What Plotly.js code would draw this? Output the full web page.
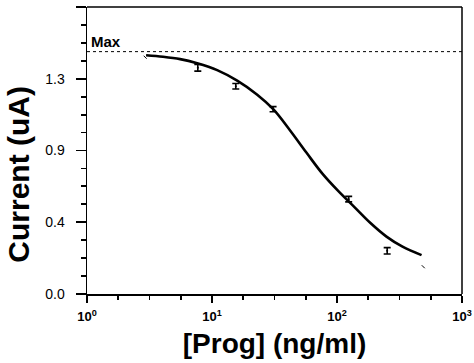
<!DOCTYPE html>
<html>
<head>
<meta charset="utf-8">
<script src="https://cdn.plot.ly/plotly-3.0.1.min.js"></script>
<style>html,body{margin:0;padding:0;background:#fff;}#chart{width:474px;height:363px;}</style>
</head>
<body>
<div id="chart"></div>
<script>
// Measured points (concentration, current, error)
const concData = [7.7, 15.5, 30.8, 124, 252];
const currentData = [1.419, 1.303, 1.159, 0.595, 0.271];
const currentErr = [0.021, 0.017, 0.016, 0.017, 0.02];

// Fitted curve
const fitConc = [2.97, 4.06, 5.56, 7.61, 11.0, 15.9, 23.0, 30.9, 42.3, 56.9, 76.4, 102.6, 137.9, 185.2, 248.8, 334.2, 474.7];
const fitCurrent = [1.4975, 1.488, 1.473, 1.447, 1.404, 1.338, 1.250, 1.159, 1.024, 0.887, 0.755, 0.645, 0.545, 0.445, 0.360, 0.297, 0.244];

// Small end marks
const markConc = [2.92, 490];
const markCurrent = [1.485, 0.171];

// Max level line
const maxConc = [1, 1000];
const maxLevel = 1.52;
const maxLabel = 'Max';

// Axis ticks
const xTickText = {'1': '10<sup>0</sup>', '10': '10<sup>1</sup>', '100': '10<sup>2</sup>', '1000': '10<sup>3</sup>'};
const xMinorStepDecades = 0.25;
const yMajorStep = 0.45;
const yTickText = {'0': '0.0', '0.45': '0.4', '0.9': '0.9', '1.35': '1.3', '1.8': '1.8'};
const yMinorStep = 0.1125;

const xTitle = '[Prog] (ng/ml)';
const yTitle = 'Current (uA)';

const font = 'Liberation Sans, Arial, sans-serif';
const clear = 'rgba(0,0,0,0)';

const traces = [
  {x: maxConc, y: maxConc.map(() => maxLevel), mode: 'lines', line: {color: 'black', width: 1, dash: 'dot'}, hoverinfo: 'skip'},
  {x: fitConc, y: fitCurrent, mode: 'lines', line: {color: 'black', width: 2.6, shape: 'spline'}},
  {x: concData, y: currentData, mode: 'markers', marker: {color: 'black', size: 2},
   error_y: {type: 'data', array: currentErr, visible: true, color: 'black', thickness: 1.6, width: 3.5}},
  {x: markConc, y: markCurrent, mode: 'markers', marker: {symbol: 'line-nw', size: 3, line: {color: 'black', width: 1}}}
];

const frame = {type: 'line', xref: 'paper', yref: 'paper', line: {color: 'black', width: 1.5}};

const layout = {
  width: 474, height: 363,
  margin: {l: 87, r: 12, t: 7, b: 69},
  showlegend: false,
  paper_bgcolor: 'white', plot_bgcolor: 'white',
  font: {family: font, color: 'black'},
  xaxis: {
    type: 'log', range: [0, 3],
    dtick: 1, labelalias: xTickText,
    ticks: 'outside', ticklen: 7, tickwidth: 1.8, tickcolor: 'black',
    minor: {dtick: xMinorStepDecades, ticks: 'outside', ticklen: 4, tickwidth: 1.8, tickcolor: 'black', gridcolor: clear},
    ticklabelstandoff: 3,
    showline: true, linecolor: 'black', linewidth: 1.5,
    gridcolor: clear,
    tickfont: {family: font, size: 13, weight: 'bold'},
    title: {text: xTitle, font: {family: font, size: 28, weight: 'bold'}, standoff: 10}
  },
  yaxis: {
    range: [0, 1.8],
    dtick: yMajorStep, labelalias: yTickText,
    ticks: 'outside', ticklen: 10, tickwidth: 1.8, tickcolor: 'black',
    minor: {dtick: yMinorStep, ticks: 'outside', ticklen: 5, tickwidth: 1.8, tickcolor: 'black', gridcolor: clear},
    ticklabelstandoff: 8,
    showline: true, linecolor: 'black', linewidth: 1.5,
    gridcolor: clear, zerolinecolor: clear,
    tickfont: {family: font, size: 14}
  },
  shapes: [
    Object.assign({x0: 0, x1: 1, y0: 1, y1: 1}, frame),
    Object.assign({x0: 1, x1: 1, y0: 0, y1: 1}, frame)
  ],
  annotations: [{
    x: 0, y: maxLevel, xref: 'x', yref: 'y', text: maxLabel, showarrow: false,
    xanchor: 'left', yanchor: 'bottom', xshift: 2, yshift: 0,
    font: {family: font, size: 15, weight: 'bold', color: 'black'}
  }, {
    x: -0.185, y: 0.418, xref: 'paper', yref: 'paper', text: yTitle, showarrow: false,
    textangle: -90, xanchor: 'center', yanchor: 'middle',
    font: {family: font, size: 30, weight: 'bold', color: 'black'}
  }]
};

Plotly.newPlot('chart', traces, layout, {displayModeBar: false, staticPlot: true});
</script>
</body>
</html>
